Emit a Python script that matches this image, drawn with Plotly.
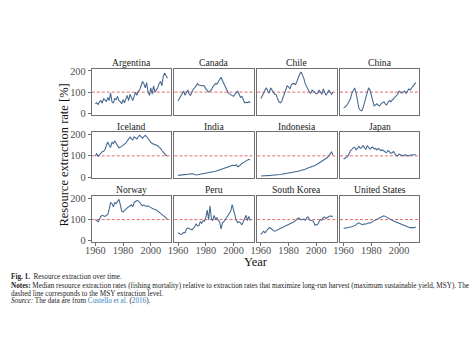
import plotly.graph_objects as go

years = list(range(1960, 2013))

countries = ["Argentina", "Canada", "Chile", "China",
             "Iceland", "India", "Indonesia", "Japan",
             "Norway", "Peru", "South Korea", "United States"]

argentina = [45, 50, 42, 55, 60, 48, 70, 62, 55, 75, 60, 95, 55, 48, 70, 65, 80, 60, 55, 45,
             65, 50, 70, 85, 60, 90, 75, 60, 80, 100, 85, 105, 110, 130, 150, 140, 120, 145, 100, 85,
             120, 90, 130, 100, 110, 120, 140, 150, 130, 175, 190, 180, 165]
canada = [58, 70, 85, 100, 105, 85, 95, 110, 90, 85, 100, 115, 120, 130, 140, 133, 130, 130, 132, 128,
          115, 106, 100, 105, 110, 125, 135, 140, 138, 150, 160, 170, 155, 140, 125, 106, 98, 92, 88, 84,
          80, 90, 98, 104, 90, 75, 80, 65, 50, 52, 50, 55, 50]
chile = [70, 80, 95, 110, 120, 105, 95, 120, 112, 100, 90, 88, 70, 55, 50, 55, 75, 95, 120, 130,
         125, 115, 135, 140, 140, 135, 150, 170, 185, 195, 180, 165, 140, 125, 115, 100, 95, 110, 105, 100,
         92, 95, 110, 100, 90, 115, 100, 85, 95, 110, 100, 90, 100]
china = [25, 30, 35, 45, 55, 70, 95, 110, 120, 95, 50, 25, 15, 12, 25, 50, 80, 100, 120, 110,
         80, 50, 35, 40, 45, 38, 35, 45, 50, 55, 45, 40, 52, 60, 55, 62, 70, 75, 80, 90,
         105, 100, 95, 100, 105, 95, 105, 115, 110, 120, 130, 140, 145]
iceland = [100, 110, 98, 105, 115, 120, 122, 130, 150, 165, 150, 140, 165, 158, 170, 160, 150, 138, 140, 145,
           150, 158, 160, 170, 180, 188, 180, 175, 190, 185, 180, 190, 197, 190, 182, 190, 197, 190, 180, 172,
           165, 158, 155, 153, 150, 148, 140, 135, 125, 118, 108, 102, 100]
india = [8, 9, 10, 11, 10, 11, 12, 13, 14, 15, 16, 14, 11, 10, 11, 12, 13, 14, 15, 16,
         17, 19, 20, 21, 22, 24, 26, 28, 30, 31, 33, 35, 37, 39, 42, 45, 48, 50, 52, 56,
         54, 55, 58, 48, 52, 60, 64, 68, 71, 75, 80, 84, 80]
indonesia = [5, 5, 6, 6, 7, 7, 8, 8, 9, 9, 10, 10, 11, 12, 12, 13, 14, 15, 16, 17,
             18, 19, 20, 21, 22, 24, 26, 28, 30, 31, 33, 35, 37, 40, 42, 45, 48, 50, 52, 55,
             58, 62, 65, 70, 72, 78, 82, 88, 92, 100, 108, 118, 105]
japan = [85, 88, 92, 97, 110, 125, 130, 138, 140, 128, 135, 145, 135, 138, 148, 140, 130, 148, 140, 132,
         138, 142, 132, 135, 128, 135, 130, 125, 128, 122, 118, 115, 125, 120, 112, 115, 120, 110, 102, 100,
         108, 105, 102, 100, 105, 103, 102, 100, 104, 105, 103, 104, 105]
norway = [100, 95, 90, 100, 115, 120, 118, 115, 120, 125, 150, 180, 175, 160, 180, 175, 185, 195, 170, 140,
          135, 140, 148, 155, 160, 165, 170, 160, 180, 185, 190, 188, 180, 172, 165, 168, 165, 162, 165, 160,
          155, 153, 150, 148, 145, 140, 135, 130, 125, 120, 115, 108, 100]
peru = [38, 33, 30, 32, 40, 38, 55, 60, 58, 55, 52, 60, 65, 80, 70, 72, 90, 82, 95, 92,
        110, 145, 100, 165, 105, 95, 120, 100, 110, 95, 90, 55, 85, 90, 100, 110, 115, 125, 140, 170,
        145, 115, 95, 85, 90, 85, 75, 90, 110, 120, 95, 115, 95]
south_korea = [30, 40, 45, 38, 48, 55, 62, 60, 52, 48, 45, 48, 52, 55, 60, 62, 65, 68, 72, 74,
               76, 78, 82, 86, 90, 95, 102, 108, 105, 98, 100, 102, 97, 108, 112, 100, 96, 95, 90, 74,
               75, 78, 90, 100, 98, 110, 112, 105, 110, 115, 118, 115, 117]
united_states = [58, 60, 60, 62, 63, 65, 66, 68, 70, 75, 82, 85, 80, 78, 76, 80, 78, 82, 85, 83,
                 88, 92, 95, 98, 102, 105, 108, 112, 115, 118, 115, 112, 108, 104, 100, 97, 93, 90, 88, 85,
                 82, 80, 78, 75, 72, 70, 66, 64, 62, 61, 60, 62, 65]

series = [argentina, canada, chile, china, iceland, india, indonesia, japan,
          norway, peru, south_korea, united_states]

MSY_LEVEL = 100
y_ticks = [0, 100, 200]
x_ticks = [1960, 1980, 2000]

W_FIG, H_FIG = 474, 355
LEFTS = [86, 170, 254, 338]
PW = 80.5
TOPS = [67, 132, 197]
PH = 47

LINE_COLOR = "#42668f"
BORDER = "#707070"
TICK_TXT = "#4d4d4d"
SERIF = "Liberation Serif"

fig = go.Figure()
annotations = []
shapes = []
layout = {}

for i, (name, vals) in enumerate(zip(countries, series)):
    r, c = divmod(i, 4)
    k = i + 1
    xs = "x" if k == 1 else f"x{k}"
    ys = "y" if k == 1 else f"y{k}"
    xkey = "xaxis" if k == 1 else f"xaxis{k}"
    ykey = "yaxis" if k == 1 else f"yaxis{k}"
    x0 = LEFTS[c] / W_FIG
    x1 = (LEFTS[c] + PW) / W_FIG
    ytop = 1 - TOPS[r] / H_FIG
    ybot = 1 - (TOPS[r] + PH) / H_FIG

    fig.add_trace(go.Scatter(x=years, y=vals, mode="lines",
                             line=dict(color=LINE_COLOR, width=1.05),
                             xaxis=xs, yaxis=ys, showlegend=False, hoverinfo="skip"))

    show_x = (r == 2)
    show_y = (c == 0)
    layout[xkey] = dict(domain=[x0, x1], anchor=ys, range=[1957.4, 2014.6],
                        showgrid=False, zeroline=False, showline=True, mirror=True,
                        linecolor=BORDER, linewidth=1.1,
                        tickvals=x_ticks, ticks="outside" if show_x else "",
                        ticklen=3, tickwidth=1, tickcolor=BORDER,
                        showticklabels=show_x, ticklabelstandoff=-5,
                        tickfont=dict(family=SERIF, size=10.3, color=TICK_TXT))
    layout[ykey] = dict(domain=[ybot, ytop], anchor=xs, range=[-6.5, 210.5],
                        showgrid=False, zeroline=False, showline=True, mirror=True,
                        linecolor=BORDER, linewidth=1.1,
                        tickvals=y_ticks, ticks="outside" if show_y else "",
                        ticklen=3, tickwidth=1, tickcolor=BORDER,
                        showticklabels=show_y,
                        tickfont=dict(family=SERIF, size=10.3, color=TICK_TXT))

    shapes.append(dict(type="line", xref=f"{xs} domain", yref=ys,
                       x0=0, x1=1, y0=MSY_LEVEL, y1=MSY_LEVEL,
                       line=dict(color="#e05a5a", width=0.9, dash="3px,2px"),
                       layer="below"))

    annotations.append(dict(text=name, xref="paper", yref="paper",
                            x=(x0 + x1) / 2, y=1 - (TOPS[r] - 6.5) / H_FIG,
                            xanchor="center", yanchor="middle", showarrow=False,
                            font=dict(family=SERIF, size=9.6, color="#1a1a1a")))

# axis titles
annotations.append(dict(text="Resource extraction rate [%]", xref="paper", yref="paper",
                        x=58 / W_FIG, y=1 - 155.5 / H_FIG, textangle=-90,
                        xanchor="center", yanchor="middle", showarrow=False,
                        font=dict(family=SERIF, size=12.5, color="#111111")))
annotations.append(dict(text="Year", xref="paper", yref="paper",
                        x=252.5 / W_FIG, y=1 - 264.5 / H_FIG,
                        xanchor="center", yanchor="middle", showarrow=False,
                        font=dict(family=SERIF, size=12.5, color="#111111")))

# caption
cap_font = dict(family=SERIF, size=7.2, color="#222222")
blue = "#2f7bbf"
cap_lines = [
    (280, "<b>Fig. 1.</b>  Resource extraction over time."),
    (289, "<b>Notes:</b> Median resource extraction rates (fishing mortality) relative to extraction rates that maximize long-run harvest (maximum sustainable yield, MSY). The"),
    (296.5, "dashed line corresponds to the MSY extraction level."),
    (304.5, f"<i>Source:</i> The data are from <span style='color:{blue}'>Costello et al.</span> (<span style='color:{blue}'>2016</span>)."),
]
for yy, txt in cap_lines:
    annotations.append(dict(text=txt, xref="paper", yref="paper",
                            x=2 / W_FIG, y=1 - yy / H_FIG,
                            xanchor="left", yanchor="middle", showarrow=False,
                            align="left", font=cap_font))

fig.update_layout(**layout)
fig.update_layout(width=W_FIG, height=H_FIG, margin=dict(l=0, r=0, t=0, b=0),
                  paper_bgcolor="white", plot_bgcolor="white",
                  annotations=annotations, shapes=shapes, showlegend=False)

fig.write_html("out.html", config={"displayModeBar": False},
               post_script="document.body.style.margin='0';")
